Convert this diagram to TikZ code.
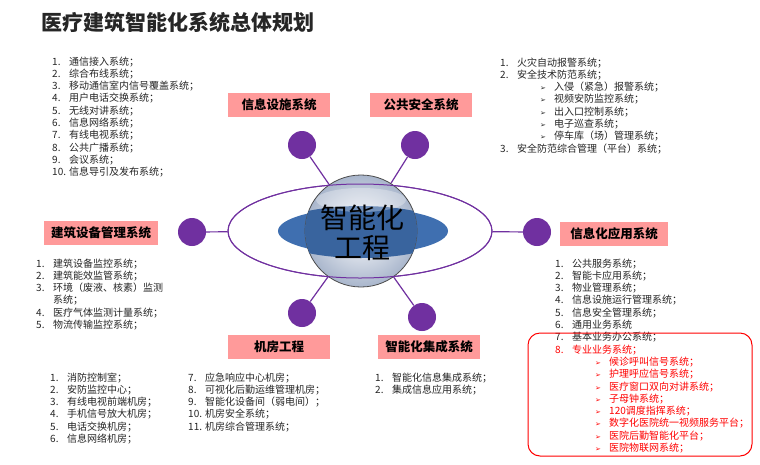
\documentclass[tikz,border=0pt]{standalone}
\usepackage{fontspec}
\setmainfont{Noto Sans CJK SC}
\newfontfamily\dingfont{DejaVu Sans}
\usetikzlibrary{shapes.geometric}
\definecolor{pinkbox}{HTML}{FF9A9A}
\definecolor{purp}{HTML}{7030A0}
\definecolor{bandblue}{HTML}{3F6FB0}
\definecolor{redtxt}{HTML}{FF0000}
\definecolor{sphout}{HTML}{A9B6CC}
\newcommand{\arr}{\makebox[14pt][l]{\dingfont\scriptsize ➢}}
\newcommand{\sub}[1]{\hspace{23pt}\arr #1}
\tikzset{
  labelbox/.style={fill=pinkbox, minimum width=102pt, minimum height=24pt, inner sep=0pt, font=\fontsize{12.5}{14}\selectfont\bfseries},
  dot/.style={circle, fill=purp, minimum size=28pt, inner sep=0pt},
  link/.style={draw=purp, line width=1.2pt},
  listtxt/.style={anchor=base west, inner sep=0pt, font=\fontsize{10}{12.3}\selectfont, text=black!85}
}
\newcommand{\lst}[1]{\begin{tabular}[t]{@{}l@{}l@{}}#1\end{tabular}}
\newcommand{\n}[1]{\makebox[17pt][l]{#1}}
\begin{document}
\begin{tikzpicture}[x=1pt,y=-1pt]
\useasboundingbox (0,0) rectangle (760,464);
\fill[white] (0,0) rectangle (760,464);
% title
\node[anchor=west, font=\fontsize{21}{24}\selectfont\bfseries, text=black!85] (title) at (38,22) {医疗建筑智能化系统总体规划};
% center graphic
\node[ellipse, draw=purp, line width=1pt, minimum width=264pt, minimum height=94pt, inner sep=0pt] (ell) at (360,231) {};
\fill[bandblue] (363,231) ellipse [x radius=85, y radius=23];
\node[circle, minimum size=112pt, inner sep=0pt, draw=black!70, line width=0.8pt, inner color=white, outer color=sphout] (sphere) at (361,231) {};
\begin{scope}
\clip (361,231) circle (56);
\fill[bandblue!90!black] (361,232) ellipse [x radius=90, y radius=26];
\fill[white, opacity=0.3] (361,200) ellipse [x radius=45, y radius=12];
\end{scope}
\draw[purp, line width=1pt] (360,231) ellipse [x radius=132, y radius=47];
\node[font=\fontsize{28}{30}\selectfont, align=center, text=black] (ctext) at (362,233) {智能化\\工程};
% dots
\node[dot] (d1) at (302,145) {};
\node[dot] (d2) at (415,145) {};
\node[dot] (d3) at (192,232) {};
\node[dot] (d4) at (537,232) {};
\node[dot] (d5) at (302,313) {};
\node[dot] (d6) at (422,317) {};
\draw[link] (d1) -- (sphere);
\draw[link] (d2) -- (sphere);
\draw[link] (d3) -- (ell);
\draw[link] (d4) -- (ell);
\draw[link] (d5) -- (sphere);
\draw[link] (d6) -- (sphere);
% label boxes
\node[labelbox] (b1) at (279,105) {信息设施系统};
\node[labelbox] (b2) at (421,105) {公共安全系统};
\node[labelbox, minimum width=114pt] (b3) at (101,233) {建筑设备管理系统};
\node[labelbox, minimum width=108pt] (b4) at (614,234) {信息化应用系统};
\node[labelbox] (b5) at (279,347) {机房工程};
\node[labelbox] (b6) at (429,347) {智能化集成系统};
% lists
\node[listtxt] (l1) at (52,65) {\lst{
\n{1.}&通信接入系统；\\
\n{2.}&综合布线系统；\\
\n{3.}&移动通信室内信号覆盖系统；\\
\n{4.}&用户电话交换系统；\\
\n{5.}&无线对讲系统；\\
\n{6.}&信息网络系统；\\
\n{7.}&有线电视系统；\\
\n{8.}&公共广播系统；\\
\n{9.}&会议系统；\\
\n{10.}&信息导引及发布系统；}};
\node[listtxt] (l2) at (500,66) {\lst{
\n{1.}&火灾自动报警系统；\\
\n{2.}&安全技术防范系统；\\
&\sub{入侵（紧急）报警系统；}\\
&\sub{视频安防监控系统；}\\
&\sub{出入口控制系统；}\\
&\sub{电子巡查系统；}\\
&\sub{停车库（场）管理系统；}\\
\n{3.}&安全防范综合管理（平台）系统；}};
\node[listtxt] (l3) at (36,267) {\lst{
\n{1.}&建筑设备监控系统；\\
\n{2.}&建筑能效监管系统；\\
\n{3.}&环境（废液、核素）监测\\
&系统；\\
\n{4.}&医疗气体监测计量系统；\\
\n{5.}&物流传输监控系统；}};
\node[listtxt] (l4) at (555,267) {\lst{
\n{1.}&公共服务系统；\\
\n{2.}&智能卡应用系统；\\
\n{3.}&物业管理系统；\\
\n{4.}&信息设施运行管理系统；\\
\n{5.}&信息安全管理系统；\\
\n{6.}&通用业务系统\\
\n{7.}&基本业务办公系统；\\
\color{redtxt}\n{8.}&\color{redtxt}专业业务系统；\\
&\color{redtxt}\sub{候诊呼叫信号系统；}\\
&\color{redtxt}\sub{护理呼应信号系统；}\\
&\color{redtxt}\sub{医疗窗口双向对讲系统；}\\
&\color{redtxt}\sub{子母钟系统；}\\
&\color{redtxt}\sub{120调度指挥系统；}\\
&\color{redtxt}\sub{数字化医院统一视频服务平台；}\\
&\color{redtxt}\sub{医院后勤智能化平台；}\\
&\color{redtxt}\sub{医院物联网系统；}}};
\node[draw=redtxt, line width=1pt, rounded corners=12pt, minimum width=224pt, minimum height=123pt, inner sep=0pt] (redbox) at (640,394.5) {};
\node[listtxt] (l5) at (50,381) {\lst{
\n{1.}&消防控制室；\\
\n{2.}&安防监控中心；\\
\n{3.}&有线电视前端机房；\\
\n{4.}&手机信号放大机房；\\
\n{5.}&电话交换机房；\\
\n{6.}&信息网络机房；}};
\node[listtxt] (l6) at (188,381) {\lst{
\n{7.}&应急响应中心机房；\\
\n{8.}&可视化后勤运维管理机房；\\
\n{9.}&智能化设备间（弱电间）；\\
\n{10.}&机房安全系统；\\
\n{11.}&机房综合管理系统；}};
\node[listtxt] (l7) at (375,381) {\lst{
\n{1.}&智能化信息集成系统；\\
\n{2.}&集成信息应用系统；}};
\end{tikzpicture}
\end{document}
